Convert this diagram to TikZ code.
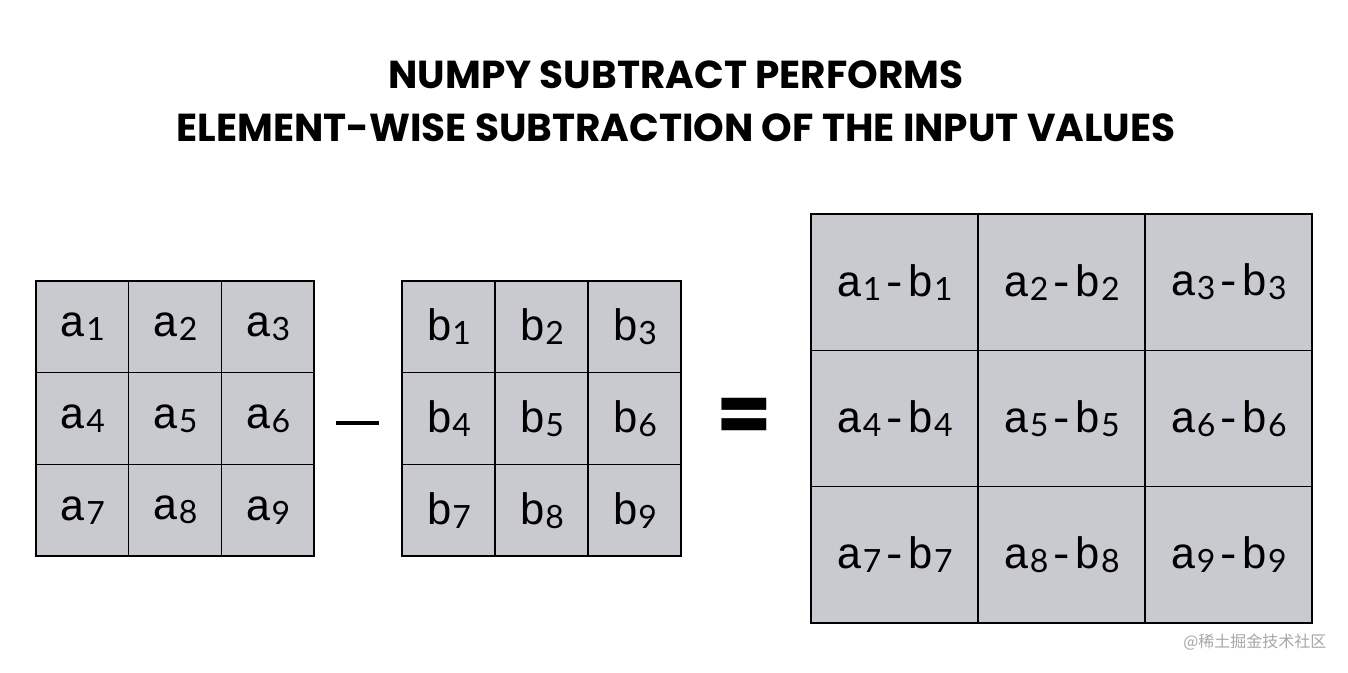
\documentclass[tikz,border=0pt]{standalone}
\usepackage{fontspec}
\setmainfont{Liberation Mono}
\newfontfamily\titlefont{Poppins}[FakeBold=0]
\newfontfamily\subfont{Lato}
\newfontfamily\cjk{Noto Sans CJK SC}
\definecolor{cellgray}{HTML}{C8CACF}
\newcommand{\el}[2]{#1\raisebox{-4pt}{\fontsize{32}{32}\subfont #2}}
\begin{document}
\begin{tikzpicture}[x=1pt,y=-1pt,
  cell/.style={draw=black,line width=1.5pt,fill=cellgray,minimum width=#1,inner sep=0pt},
  txt/.style={font=\fontsize{44}{44}\selectfont}]
\useasboundingbox (0,0) rectangle (1348,672);
% title
\node[font=\titlefont\bfseries\fontsize{39}{39}\selectfont] (t1) at (676,75) {NUMPY SUBTRACT PERFORMS};
\node[font=\titlefont\bfseries\fontsize{39}{39}\selectfont] (t2) at (676,128) {ELEMENT-WISE SUBTRACTION OF THE INPUT VALUES};
% left grid a
\foreach \i in {0,1,2} \foreach \j in {0,1,2} {
  \pgfmathtruncatemacro{\k}{3*\i+\j+1}
  \node[cell=92.7pt,minimum height=91.7pt,txt] (a\k) at ({36+92.7*(\j+0.5)},{281+91.7*(\i+0.5)}) {\el{a}{\k}};
  \node[cell=93pt,minimum height=91.7pt,txt] (b\k) at ({402+93*(\j+0.5)},{281+91.7*(\i+0.5)}) {\el{b}{\k}};
  \node[cell=167pt,minimum height=136.3pt,txt] (c\k) at ({811+167*(\j+0.5)},{214+136.3*(\i+0.5)}) {\el{a}{\k}-\el{b}{\k}};
}
\draw[line width=4pt] (336,423) -- (379,423);
\node[font=\titlefont\bfseries\fontsize{80}{80}\selectfont] (eq) at (744,420) {=};
\node[font=\cjk\fontsize{16}{16}\selectfont,text=gray!70,anchor=east] (wm) at (1330,642) {@稀土掘金技术社区};
\end{tikzpicture}
\end{document}
